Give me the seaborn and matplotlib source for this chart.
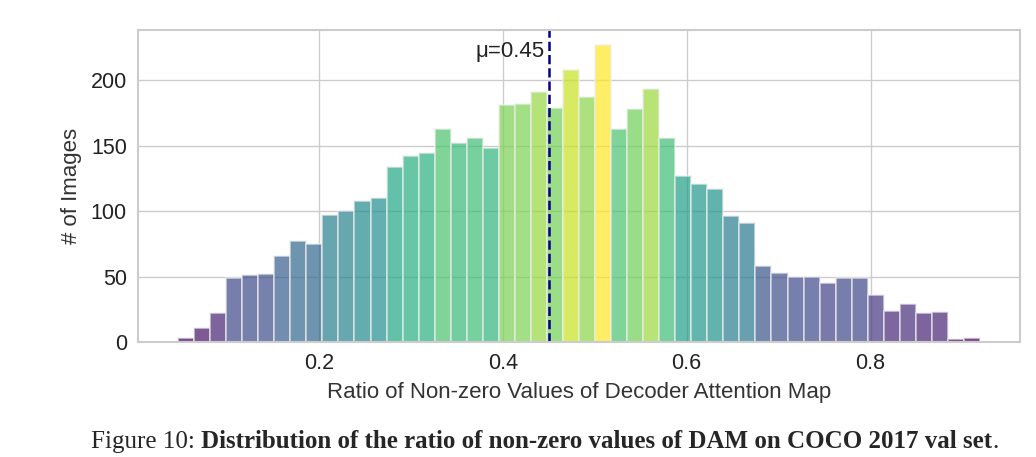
import numpy as np
import pandas as pd
import matplotlib
matplotlib.use("Agg")
import matplotlib.pyplot as plt
import seaborn as sns

# histogram: 50 bins between lo and hi
bin_lo = 0.047
bin_hi = 0.919
counts = [3, 11, 22, 49, 51, 52, 66, 77, 75, 97,
          100, 108, 110, 134, 142, 144, 163, 152, 156, 148,
          181, 182, 191, 179, 208, 187, 227, 163, 178, 193,
          156, 127, 121, 117, 96, 91, 58, 53, 50, 50,
          45, 49, 49, 36, 24, 29, 22, 23, 2, 3]
mean_ratio = 0.45

edges = np.linspace(bin_lo, bin_hi, len(counts) + 1)
centers = (edges[:-1] + edges[1:]) / 2
df = pd.DataFrame({"ratio": centers, "n": counts})

sns.set_theme(style="whitegrid")
plt.rcParams['font.family'] = ['Liberation Sans', 'DejaVu Sans']

fig = plt.figure(figsize=(10.36, 4.57), dpi=100)
ax = fig.add_axes([0.1332, 0.2516, 0.8514, 0.6828])

sns.histplot(data=df, x="ratio", weights="n", bins=len(counts),
             binrange=(bin_lo, bin_hi), ax=ax,
             edgecolor="#eeeeee", linewidth=1.2, alpha=0.7)
# colour each bar by its height
cmap = plt.get_cmap("viridis")
for p, c in zip(ax.patches, counts):
    p.set_facecolor(cmap(c / max(counts)))
    p.set_alpha(0.7)

ax.axvline(mean_ratio, color="navy", ls="--", lw=1.8)
ax.text(mean_ratio - 0.004, 214, "μ=%.2f" % mean_ratio, ha="right", va="bottom",
        fontsize=16, color="#222222")

ax.set_xlabel("Ratio of Non-zero Values of Decoder Attention Map", fontsize=16,
              color="#333333", labelpad=6)
ax.set_ylabel("# of Images", fontsize=16, color="#333333", labelpad=6)
ax.tick_params(labelsize=15.5, colors="#222222", pad=2)
ax.set_yticks([0, 50, 100, 150, 200])
ax.set_xticks([0.2, 0.4, 0.6, 0.8])
for s in ax.spines.values():
    s.set_color("#cccccc")
    s.set_linewidth(1.5)

# caption with normal and bold parts
r = fig.canvas.get_renderer()
cap_y = 1 - 448 / 457
t1 = fig.text(91 / 1036, cap_y, "Figure 10: ", family="Liberation Serif", fontsize=18)
w1 = t1.get_window_extent(r).width / 1036
t2 = fig.text(91 / 1036 + w1, cap_y,
              "Distribution of the ratio of non-zero values of DAM on COCO 2017 val set",
              family="Liberation Serif", fontsize=18, weight="bold")
w2 = t2.get_window_extent(r).width / 1036
fig.text(91 / 1036 + w1 + w2, cap_y, ".", family="Liberation Serif", fontsize=18)

fig.savefig("out.png", dpi=100)
